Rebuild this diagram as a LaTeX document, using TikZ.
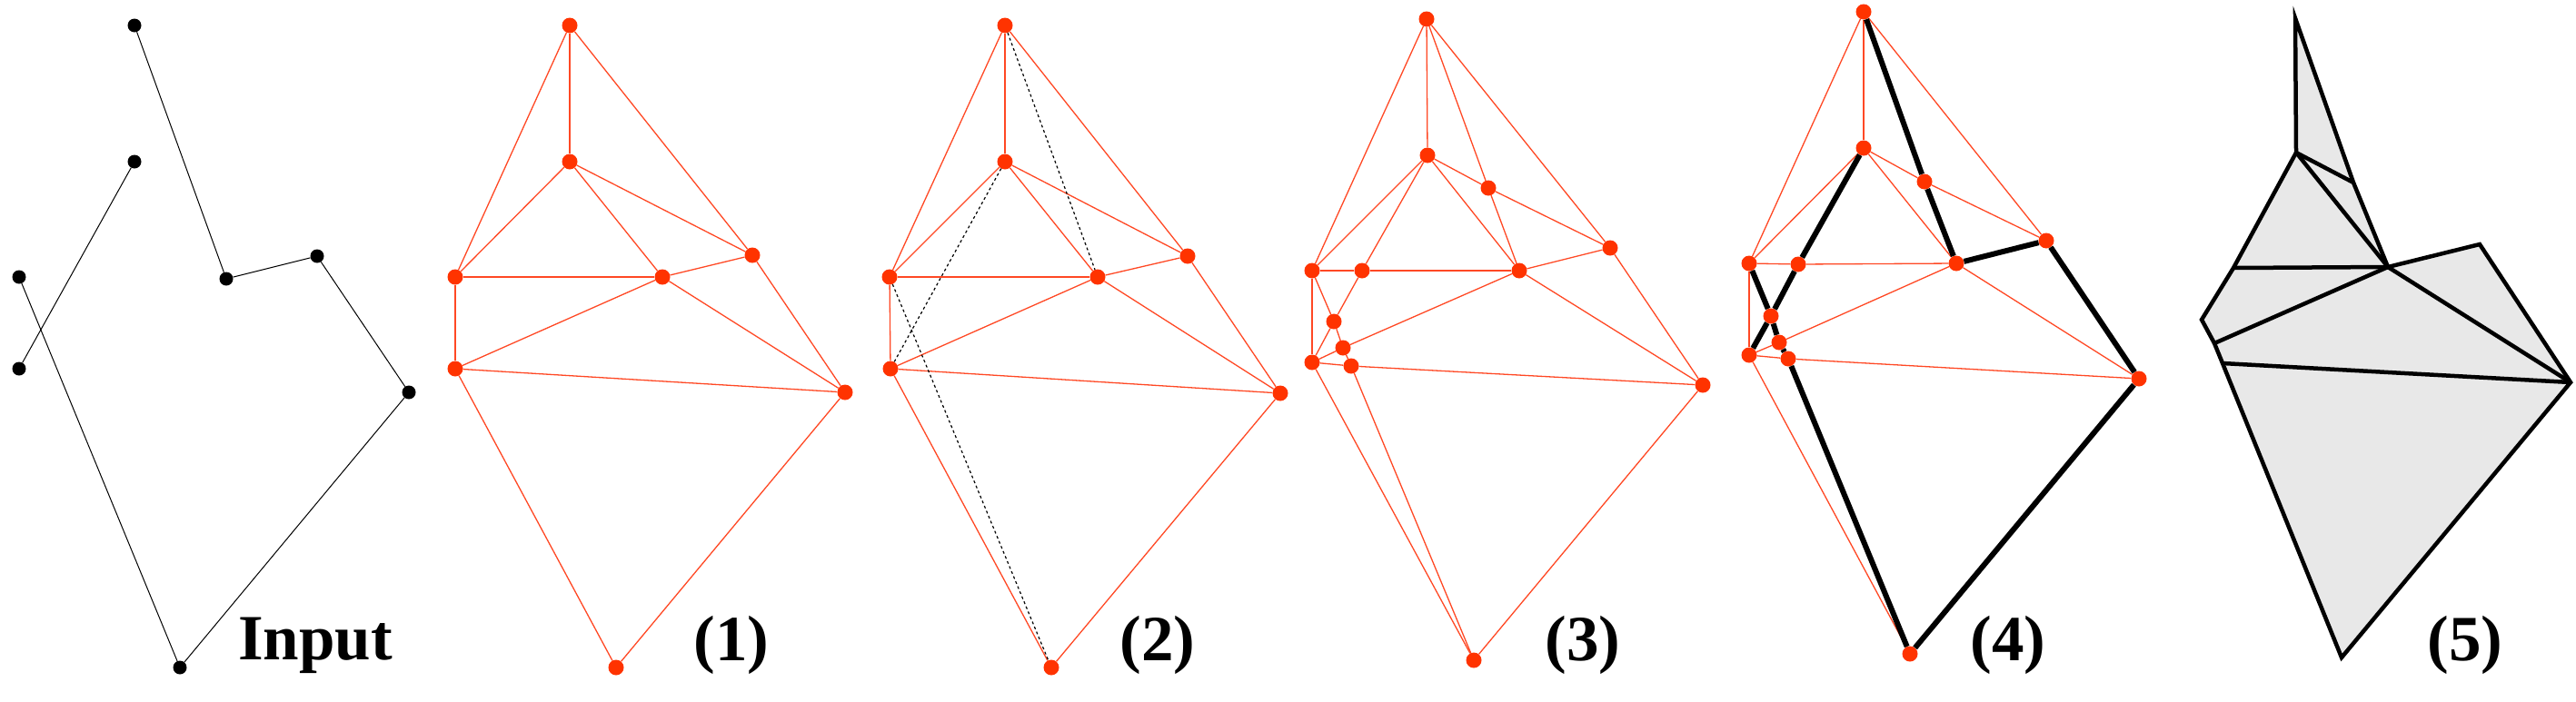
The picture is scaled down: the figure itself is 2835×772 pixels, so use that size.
\documentclass[tikz,border=0pt]{standalone}
\usepackage{fontspec}
\setmainfont{Liberation Serif}
\definecolor{dotred}{RGB}{255,51,0}
\definecolor{edgered}{RGB}{255,72,36}
\definecolor{facegray}{RGB}{232,232,232}

\begin{document}
\begin{tikzpicture}[
        x=1pt, y=-1pt,
        dot/.style={circle, fill=dotred, inner sep=0pt, minimum size=17pt},
        indot/.style={circle, fill=black, inner sep=0pt, minimum size=15pt},
        tag/.style={anchor=base, font=\bfseries\fontsize{71}{80}\selectfont}
    ]

    \tikzset{
    wire/.style={draw=black, line width=1pt},
    edge/.style={draw=edgered, line width=1.3pt},
    cut/.style={draw=black, line width=6pt},
    probe/.style={draw=black, line width=1.2pt, dash pattern=on 3pt off 3pt},
    face/.style={fill=facegray, draw=black, line width=4.5pt}
}

    \useasboundingbox (0,0) rectangle (2835,772);

    % input
    \node[indot] (A0) at (148,28) {};
    \node[indot] (B0) at (148,178) {};
    \node[indot] (C0) at (21,305) {};
    \node[indot] (F0) at (21,406) {};
    \node[indot] (D0) at (249,307) {};
    \node[indot] (E0) at (349,282) {};
    \node[indot] (G0) at (450,432) {};
    \node[indot] (H0) at (198,735) {};

    \draw[wire] (A0) -- (D0);
    \draw[wire] (D0) -- (E0);
    \draw[wire] (E0) -- (G0);
    \draw[wire] (G0) -- (H0);
    \draw[wire] (H0) -- (C0);
    \draw[wire] (F0) -- (B0);

    \node[tag] (T0) at (347,726) {Input};

    % (1)
    \node[dot] (A1) at (627,28) {};
    \node[dot] (B1) at (627,178) {};
    \node[dot] (C1) at (501,305) {};
    \node[dot] (D1) at (729,305) {};
    \node[dot] (E1) at (828,281) {};
    \node[dot] (F1) at (501,406) {};
    \node[dot] (G1) at (930,432) {};
    \node[dot] (H1) at (678,735) {};

    \draw[edge] (A1) -- (B1);
    \draw[edge] (A1) -- (C1);
    \draw[edge] (A1) -- (E1);
    \draw[edge] (B1) -- (C1);
    \draw[edge] (B1) -- (D1);
    \draw[edge] (B1) -- (E1);
    \draw[edge] (C1) -- (D1);
    \draw[edge] (C1) -- (F1);
    \draw[edge] (D1) -- (E1);
    \draw[edge] (D1) -- (F1);
    \draw[edge] (D1) -- (G1);
    \draw[edge] (E1) -- (G1);
    \draw[edge] (F1) -- (G1);
    \draw[edge] (F1) -- (H1);
    \draw[edge] (G1) -- (H1);

    \node[tag] (T1) at (805,727) {(1)};

    % (2)
    \node[dot] (A2) at (1106,28) {};
    \node[dot] (B2) at (1106,178) {};
    \node[dot] (C2) at (979,305) {};
    \node[dot] (D2) at (1208,305) {};
    \node[dot] (E2) at (1307,282) {};
    \node[dot] (F2) at (980,406) {};
    \node[dot] (G2) at (1409,433) {};
    \node[dot] (H2) at (1157,735) {};

    \draw[edge] (A2) -- (B2);
    \draw[edge] (A2) -- (C2);
    \draw[edge] (A2) -- (E2);
    \draw[edge] (B2) -- (C2);
    \draw[edge] (B2) -- (D2);
    \draw[edge] (B2) -- (E2);
    \draw[edge] (C2) -- (D2);
    \draw[edge] (C2) -- (F2);
    \draw[edge] (D2) -- (E2);
    \draw[edge] (D2) -- (F2);
    \draw[edge] (D2) -- (G2);
    \draw[edge] (E2) -- (G2);
    \draw[edge] (F2) -- (G2);
    \draw[edge] (F2) -- (H2);
    \draw[edge] (G2) -- (H2);

    \draw[probe] (A2) -- (D2);
    \draw[probe] (B2) -- (F2);
    \draw[probe] (C2) -- (H2);

    \node[tag] (T2) at (1274,727) {(2)};

    % (3)
    \node[dot] (A3) at (1570,21) {};
    \node[dot] (B3) at (1571,171) {};
    \node[dot] (I3) at (1638,207) {};
    \node[dot] (C3) at (1444,298) {};
    \node[dot] (J3) at (1499,298) {};
    \node[dot] (D3) at (1672,298) {};
    \node[dot] (E3) at (1772,273) {};
    \node[dot] (K3) at (1468,354) {};
    \node[dot] (L3) at (1478,383) {};
    \node[dot] (F3) at (1444,399) {};
    \node[dot] (M3) at (1487,403) {};
    \node[dot] (G3) at (1874,424) {};
    \node[dot] (H3) at (1622,727) {};

    \draw[edge] (A3) -- (B3);
    \draw[edge] (A3) -- (C3);
    \draw[edge] (A3) -- (E3);
    \draw[edge] (A3) -- (I3);
    \draw[edge] (I3) -- (D3);
    \draw[edge] (B3) -- (C3);
    \draw[edge] (B3) -- (I3);
    \draw[edge] (I3) -- (E3);
    \draw[edge] (B3) -- (D3);
    \draw[edge] (B3) -- (J3);
    \draw[edge] (J3) -- (K3);
    \draw[edge] (K3) -- (F3);
    \draw[edge] (C3) -- (J3);
    \draw[edge] (J3) -- (D3);
    \draw[edge] (C3) -- (F3);
    \draw[edge] (C3) -- (K3);
    \draw[edge] (K3) -- (L3);
    \draw[edge] (L3) -- (M3);
    \draw[edge] (M3) -- (H3);
    \draw[edge] (F3) -- (L3);
    \draw[edge] (L3) -- (D3);
    \draw[edge] (F3) -- (M3);
    \draw[edge] (M3) -- (G3);
    \draw[edge] (D3) -- (E3);
    \draw[edge] (D3) -- (G3);
    \draw[edge] (E3) -- (G3);
    \draw[edge] (F3) -- (H3);
    \draw[edge] (G3) -- (H3);

    \node[tag] (T3) at (1742,727) {(3)};

    % (4)
    \node[dot] (A4) at (2051,13) {};
    \node[dot] (B4) at (2051,163) {};
    \node[dot] (I4) at (2118,200) {};
    \node[dot] (C4) at (1925,290) {};
    \node[dot] (J4) at (1979,291) {};
    \node[dot] (D4) at (2153,290) {};
    \node[dot] (E4) at (2252,265) {};
    \node[dot] (K4) at (1949,348) {};
    \node[dot] (L4) at (1958,377) {};
    \node[dot] (F4) at (1925,391) {};
    \node[dot] (M4) at (1968,395) {};
    \node[dot] (G4) at (2354,417) {};
    \node[dot] (H4) at (2102,720) {};

    \draw[edge] (A4) -- (B4);
    \draw[edge] (A4) -- (C4);
    \draw[edge] (A4) -- (E4);
    \draw[edge] (B4) -- (C4);
    \draw[edge] (B4) -- (I4);
    \draw[edge] (I4) -- (E4);
    \draw[edge] (B4) -- (D4);
    \draw[edge] (C4) -- (J4);
    \draw[edge] (J4) -- (D4);
    \draw[edge] (C4) -- (F4);
    \draw[edge] (F4) -- (L4);
    \draw[edge] (L4) -- (D4);
    \draw[edge] (F4) -- (M4);
    \draw[edge] (M4) -- (G4);
    \draw[edge] (D4) -- (G4);
    \draw[edge] (F4) -- (H4);

    \draw[cut] (A4) -- (I4);
    \draw[cut] (I4) -- (D4);
    \draw[cut] (D4) -- (E4);
    \draw[cut] (E4) -- (G4);
    \draw[cut] (G4) -- (H4);
    \draw[cut] (H4) -- (M4);
    \draw[cut] (M4) -- (L4);
    \draw[cut] (L4) -- (K4);
    \draw[cut] (K4) -- (C4);
    \draw[cut] (B4) -- (J4);
    \draw[cut] (J4) -- (K4);
    \draw[cut] (K4) -- (F4);

    \node[tag] (T4) at (2210,727) {(4)};

    % (5)
    \coordinate (A5) at (2526,20);
    \coordinate (B5) at (2527,168);
    \coordinate (I5) at (2590,201);
    \coordinate (D5) at (2628,294);
    \coordinate (E5) at (2729,269);
    \coordinate (G5) at (2829,421);
    \coordinate (H5) at (2577,724);
    \coordinate (M5) at (2446,400);
    \coordinate (L5) at (2437,378);
    \coordinate (K5) at (2423,352);
    \coordinate (J5) at (2458,295);

    \draw[face] (A5) -- (I5) -- (D5) -- (E5) -- (G5) -- (H5) -- (M5)
        -- (L5) -- (K5) -- (J5) -- (B5) -- cycle;
    \draw[face] (B5) -- (I5);
    \draw[face] (B5) -- (D5);
    \draw[face] (J5) -- (D5);
    \draw[face] (L5) -- (D5);
    \draw[face] (D5) -- (G5);
    \draw[face] (M5) -- (G5);

    \node[tag] (T5) at (2713,727) {(5)};
    \end{tikzpicture}
\end{document}
